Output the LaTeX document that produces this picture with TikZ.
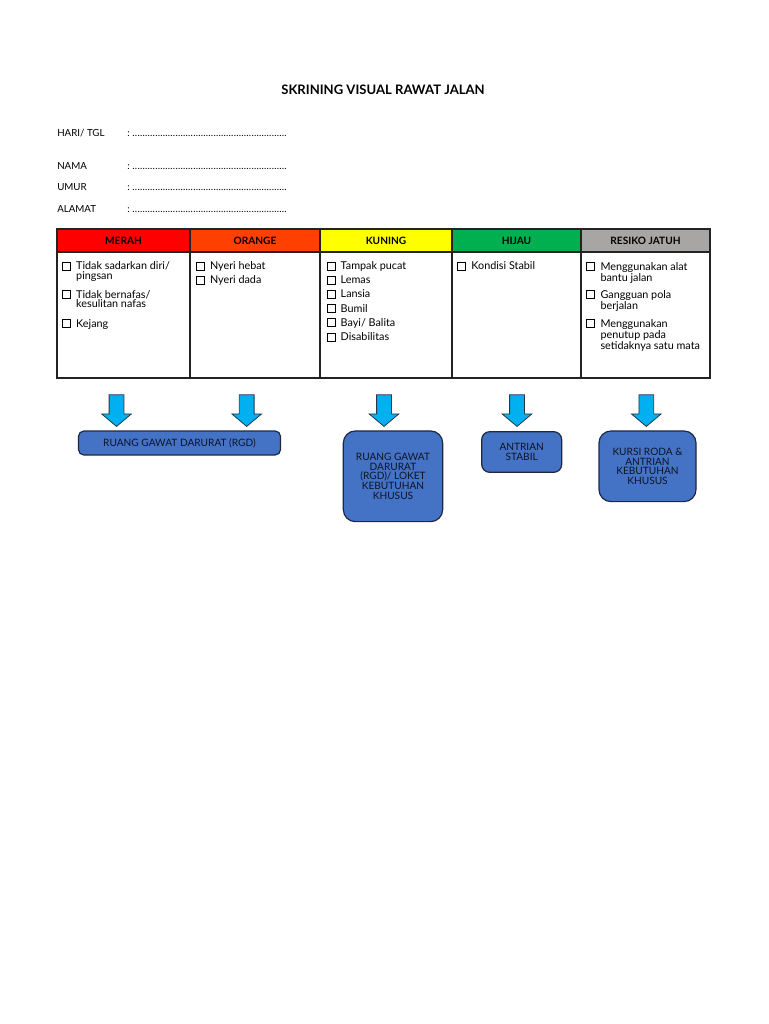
\documentclass[tikz,border=0pt]{standalone}
\usepackage{fontspec}
\setmainfont{Lato}
\usetikzlibrary{positioning,shapes.arrows}
\definecolor{TriageRed}{RGB}{255,0,0}
\definecolor{TriageOrange}{RGB}{255,64,0}
\definecolor{TriageYellow}{RGB}{255,255,0}
\definecolor{TriageGreen}{RGB}{0,176,80}
\definecolor{FallGray}{RGB}{168,165,165}
\definecolor{TableLine}{RGB}{35,35,35}
\definecolor{ArrowBlue}{RGB}{0,176,240}
\definecolor{ArrowLine}{RGB}{40,55,75}
\definecolor{BoxBlue}{RGB}{68,114,196}
\definecolor{BoxLine}{RGB}{30,40,65}
\definecolor{BoxText}{RGB}{15,20,40}
\newcommand{\dotline}{\makebox[121pt][l]{:\,\leaders\hbox to 1.9pt{\hss.\hss}\hfill}}

\begin{document}
\begin{tikzpicture}[
    x=0.75pt, y=-0.75pt,
    head/.style={draw=TableLine, line width=0.9pt, minimum height=17.25pt, inner sep=0pt, outer sep=0pt, font=\fontsize{7.6}{8}\selectfont\bfseries},
    cell/.style={draw=TableLine, line width=0.9pt, minimum height=94.5pt, inner sep=0pt, outer sep=0pt},
    chk/.style={draw, line width=0.6pt, minimum size=6pt, inner sep=0pt},
    item/.style={font=\fontsize{8.1}{7}\selectfont, align=left, inner sep=0pt},
    form/.style={font=\fontsize{7.3}{8}\selectfont, inner sep=0pt, anchor=base west},
    down/.style={single arrow, draw=ArrowLine, fill=ArrowBlue, rotate=-90, inner xsep=0pt, inner ysep=5.25pt, single arrow head extend=5.6pt, single arrow tip angle=100, minimum height=23.7pt, line width=0.6pt},
    dest/.style={draw=BoxLine, fill=BoxBlue, line width=0.9pt, align=center, inner sep=0pt, font=\fontsize{7.6}{7.3}\selectfont, text=BoxText}
]
    \useasboundingbox (0,0) rectangle (768,1024);

    % judul dan data pasien
    \node[font=\fontsize{9.8}{11}\selectfont\bfseries, anchor=base] (title) at (383,94) {SKRINING VISUAL RAWAT JALAN};
    \node[form] (hari) at (57,136) {HARI/ TGL};
    \node[form] (harival) at (127,136) {\dotline};
    \node[form] (nama) at (57,169.3) {NAMA};
    \node[form] (namaval) at (127,169.3) {\dotline};
    \node[form] (umur) at (57,190) {UMUR};
    \node[form] (umurval) at (127,190) {\dotline};
    \node[form] (alamat) at (57,212.7) {ALAMAT};
    \node[form] (alamatval) at (127,212.7) {\dotline};

    % kepala tabel
    \node[head, fill=TriageRed, minimum width=99.75pt] (merah) at (123.5,240.5) {MERAH};
    \node[head, fill=TriageOrange, minimum width=97.5pt] (orange) at (255,240.5) {ORANGE};
    \node[head, fill=TriageYellow, minimum width=99pt] (kuning) at (386,240.5) {KUNING};
    \node[head, fill=TriageGreen, minimum width=96.75pt] (hijau) at (516.5,240.5) {HIJAU};
    \node[head, fill=FallGray, minimum width=96.75pt] (resiko) at (645.5,240.5) {RESIKO JATUH};

    % isi tabel
    \node[cell, minimum width=99.75pt, below=0pt of merah] (merahcell) {};
    \node[cell, minimum width=97.5pt, below=0pt of orange] (orangecell) {};
    \node[cell, minimum width=99pt, below=0pt of kuning] (kuningcell) {};
    \node[cell, minimum width=96.75pt, below=0pt of hijau] (hijaucell) {};
    \node[cell, minimum width=96.75pt, below=0pt of resiko] (resikocell) {};

    % merah
    \node[chk] (m1) at (66.5,266) {};
    \node[item, right=3.8pt of m1.north east, anchor=north west] (m1t) {Tidak sadarkan diri/\\pingsan};
    \node[chk] (m2) at (66.5,294.5) {};
    \node[item, right=3.8pt of m2.north east, anchor=north west] (m2t) {Tidak bernafas/\\kesulitan nafas};
    \node[chk] (m3) at (66.5,323.3) {};
    \node[item, right=3.8pt of m3.north east, anchor=north west] (m3t) {Kejang};

    % orange
    \node[chk] (o1) at (200.3,266) {};
    \node[item, right=3.8pt of o1.north east, anchor=north west] (o1t) {Nyeri hebat};
    \node[chk] (o2) at (200.3,280) {};
    \node[item, right=3.8pt of o2.north east, anchor=north west] (o2t) {Nyeri dada};

    % kuning
    \node[chk] (k1) at (331,266) {};
    \node[item, right=3.8pt of k1.north east, anchor=north west] (k1t) {Tampak pucat};
    \node[chk] (k2) at (331,280) {};
    \node[item, right=3.8pt of k2.north east, anchor=north west] (k2t) {Lemas};
    \node[chk] (k3) at (331,294.2) {};
    \node[item, right=3.8pt of k3.north east, anchor=north west] (k3t) {Lansia};
    \node[chk] (k4) at (331,308.4) {};
    \node[item, right=3.8pt of k4.north east, anchor=north west] (k4t) {Bumil};
    \node[chk] (k5) at (331,322.8) {};
    \node[item, right=3.8pt of k5.north east, anchor=north west] (k5t) {Bayi/ Balita};
    \node[chk] (k6) at (331,337) {};
    \node[item, right=3.8pt of k6.north east, anchor=north west] (k6t) {Disabilitas};

    % hijau
    \node[chk] (h1) at (461.7,266) {};
    \node[item, right=3.8pt of h1.north east, anchor=north west] (h1t) {Kondisi Stabil};

    % resiko jatuh
    \node[chk] (r1) at (590.8,266.5) {};
    \node[item, right=3.8pt of r1.north east, anchor=north west] (r1t) {Menggunakan alat\\bantu jalan};
    \node[chk] (r2) at (590.8,294.8) {};
    \node[item, right=3.8pt of r2.north east, anchor=north west] (r2t) {Gangguan pola\\berjalan};
    \node[chk] (r3) at (590.8,323.5) {};
    \node[item, right=3.8pt of r3.north east, anchor=north west] (r3t) {Menggunakan\\penutup pada\\setidaknya satu mata};

    % panah ke tujuan
    \node[down] (amerah) at (116.5,407.5) {};
    \node[down] (aorange) at (246.7,407.5) {};
    \node[down] (akuning) at (384,407.5) {};
    \node[down] (ahijau) at (517,407.5) {};
    \node[down] (aresiko) at (646.3,407.5) {};

    % ruang tujuan
    \node[dest, minimum width=151.5pt, minimum height=18pt, rounded corners=4pt] (rgd) at (179.5,443) {RUANG GAWAT DARURAT (RGD)};
    \node[dest, minimum width=74.5pt, minimum height=68pt, rounded corners=9pt] (loket) at (393,476.3) {RUANG GAWAT\\DARURAT\\(RGD)/ LOKET\\KEBUTUHAN\\KHUSUS};
    \node[dest, minimum width=60pt, minimum height=30.5pt, rounded corners=6pt] (antrian) at (521.7,452) {ANTRIAN\\STABIL};
    \node[dest, minimum width=72.75pt, minimum height=53pt, rounded corners=9pt] (kursi) at (647.5,466.3) {KURSI RODA \&\\ANTRIAN\\KEBUTUHAN\\KHUSUS};
\end{tikzpicture}
\end{document}
